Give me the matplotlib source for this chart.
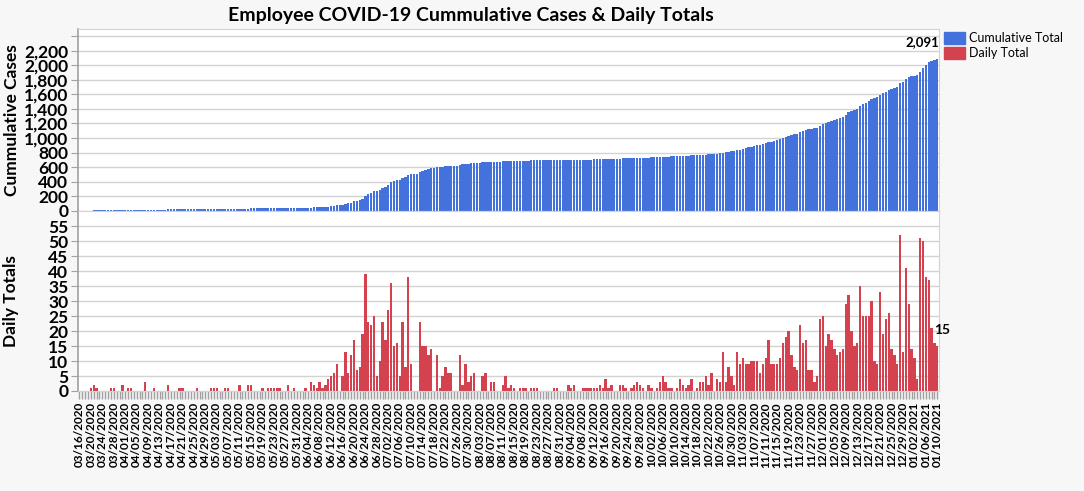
import numpy as np
import pandas as pd
import matplotlib
matplotlib.use("Agg")
import matplotlib.pyplot as plt
from matplotlib.patches import Patch

plt.rcParams["font.family"] = ["Lato", "DejaVu Sans"]

# Daily new cases, 03/16/2020 .. 01/10/2021
daily = [
    0, 0, 0, 0, 1, 2, 1, 0, 0, 0, 0, 1, 1, 0, 0, 2, 0, 1, 1, 0,
    0, 0, 0, 3, 0, 0, 1, 0, 0, 0, 0, 2, 0, 0, 0, 1, 1, 0, 0, 0,
    0, 1, 0, 0, 0, 0, 1, 1, 1, 0, 0, 1, 1, 0, 0, 0, 2, 0, 0, 2,
    2, 0, 0, 0, 1, 0, 1, 1, 1, 1, 1, 0, 0, 2, 0, 1, 0, 0, 0, 1,
    0, 3, 2, 1, 3, 1, 2, 4, 5, 6, 9, 0, 5, 13, 6, 12, 17, 7, 8, 19,
    39, 23, 22, 25, 5, 10, 23, 17, 27, 36, 15, 16, 5, 23, 8, 38, 9, 0, 0, 23,
    15, 15, 12, 14, 0, 12, 1, 5, 8, 6, 6, 0, 0, 12, 2, 9, 3, 5, 6, 0,
    0, 5, 6, 0, 3, 3, 0, 0, 2, 5, 1, 2, 1, 0, 1, 1, 1, 0, 1, 1,
    1, 0, 0, 0, 0, 0, 1, 1, 0, 0, 0, 2, 1, 2, 0, 0, 1, 1, 1, 1,
    1, 1, 2, 1, 4, 1, 2, 0, 0, 2, 2, 1, 0, 1, 2, 3, 2, 1, 0, 2,
    1, 0, 1, 3, 5, 3, 1, 1, 0, 1, 4, 2, 1, 2, 4, 0, 1, 3, 3, 5,
    2, 6, 0, 4, 3, 13, 3, 8, 5, 2, 13, 9, 11, 9, 9, 10, 10, 10, 6, 9,
    11, 17, 9, 9, 9, 11, 16, 18, 20, 12, 8, 7, 22, 16, 17, 7, 7, 3, 5, 24,
    25, 15, 19, 17, 14, 12, 13, 14, 29, 32, 20, 15, 16, 35, 25, 25, 25, 30, 10, 9,
    33, 19, 24, 26, 14, 12, 9, 52, 13, 41, 29, 14, 11, 4, 51, 50, 38, 37, 21, 16,
    15,
]
start_date = "2020-03-16"
end_date = "2021-01-10"

dates = pd.date_range(start_date, end_date, freq="D")
date_labels = dates.strftime("%m/%d/%Y")
cumulative = np.cumsum(daily)
x = np.arange(len(daily))

blue = "#4472DD"
red = "#D4414F"
grid_c = "#d3d3d3"
axis_c = "#a0a0a0"

fig = plt.figure(figsize=(10.84, 4.91), dpi=100, facecolor="#f7f7f7")
ax1 = fig.add_axes([0.072, 0.571, 0.794, 0.370])
ax2 = fig.add_axes([0.072, 0.2037, 0.794, 0.366])

for ax in (ax1, ax2):
    ax.set_facecolor("white")
    ax.set_axisbelow(True)
    ax.grid(axis="y", color=grid_c, linewidth=1)
    for s in ax.spines.values():
        s.set_color(grid_c)
    ax.spines["left"].set_color(axis_c)
    ax.spines["left"].set_linewidth(1.2)
    ax.set_xlim(-0.5, len(daily) - 0.5)
    ax.tick_params(axis="y", colors=axis_c, labelcolor="black", length=5, pad=2)

# Top: cumulative
ax1.bar(x, cumulative, width=0.82, color=blue, linewidth=0)
ax1.set_ylim(0, 2500)
ax1.set_yticks(np.arange(0, 2401, 200))
ax1.set_yticklabels([f"{v:,}" if v <= 2200 else "" for v in range(0, 2401, 200)],
                    fontsize=12.5, fontweight="bold")
ax1.set_xticks([])
ax1.set_ylabel("Cummulative Cases", fontsize=12.5, fontweight="bold")
ax1.yaxis.set_label_coords(-0.0675, 0.5)
ax1.text(x[-1] + 0.5, cumulative[-1] + 150, f"{cumulative[-1]:,}", ha="right",
         va="bottom", fontsize=9.5, fontweight="bold")

# Bottom: daily
ax2.bar(x, daily, width=0.82, color=red, linewidth=0)
ax2.set_ylim(0, 60)
ax2.set_yticks(np.arange(0, 56, 5))
ax2.set_yticklabels([str(v) for v in range(0, 56, 5)], fontsize=12.5, fontweight="bold")
ax2.set_ylabel("Daily Totals", fontsize=12.5, fontweight="bold")
ax2.yaxis.set_label_coords(-0.0685, 0.5)
ax2.set_xticks(x[::4])
ax2.set_xticklabels(date_labels[::4], rotation=90, fontsize=8.5, fontweight="bold")
ax2.set_xticks(x, minor=True)
ax2.tick_params(axis="x", which="both", colors=axis_c, labelcolor="black",
                length=6, width=1, pad=2)
ax2.text(x[-1] - 1.2, daily[-1] + 3.5, str(daily[-1]), ha="left", va="bottom",
         fontsize=10, fontweight="bold")

fig.text(0.434, 0.968, "Employee COVID-19 Cummulative Cases & Daily Totals",
         ha="center", va="center", fontsize=14, fontweight="bold")

handles = [Patch(color=blue, label="Cumulative Total"),
           Patch(color=red, label="Daily Total")]
fig.legend(handles=handles, loc="upper left", bbox_to_anchor=(0.871, 0.935),
           frameon=False, fontsize=9, handlelength=1.7, handleheight=1.1,
           handletextpad=0.3, labelspacing=0.2, borderaxespad=0, borderpad=0)

fig.savefig("out.png", dpi=100, facecolor=fig.get_facecolor())
